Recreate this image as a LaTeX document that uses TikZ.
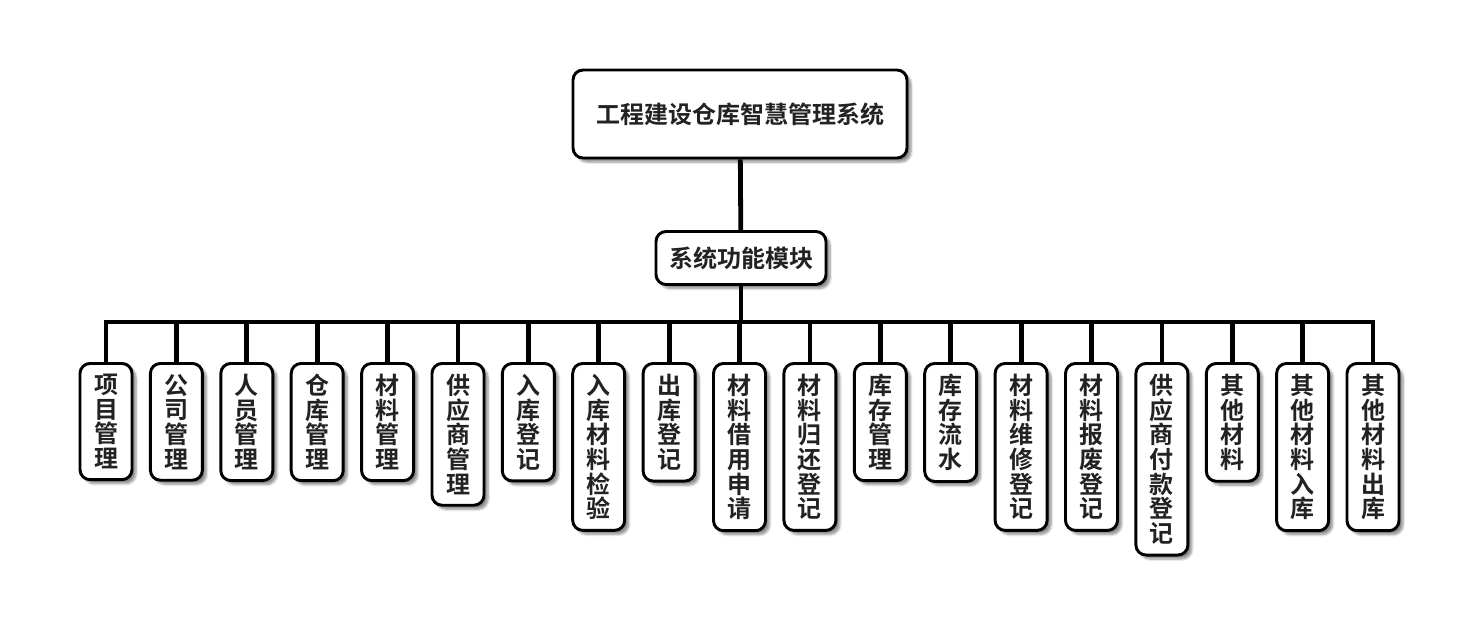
\documentclass[tikz,border=0pt]{standalone}
\usepackage{fontspec}
\newfontfamily\cjk{Noto Sans CJK SC}[BoldFont={Noto Sans CJK SC Bold}]
\usetikzlibrary{shadows.blur}
\definecolor{ink}{HTML}{222222}

\begin{document}
\begin{tikzpicture}[
  x=0.75pt,y=-0.75pt,
  box/.style={draw=black, line width=2.2pt, rounded corners=7.5pt, fill=white, align=center,
    font=\cjk\bfseries\fontsize{18}{18.5}\selectfont, text=ink,
    blur shadow={shadow xshift=3pt, shadow yshift=-3pt, shadow blur steps=6, shadow opacity=45}},
  leaf/.style={box, anchor=north, minimum width=39pt, inner xsep=2pt, inner ysep=8pt},
  link/.style={line width=3.6pt}
]
\useasboundingbox (0,0) rectangle (1480,632);

\node[box, minimum width=250.5pt, minimum height=66pt] (root) at (740,114) {工程建设仓库智慧管理系统};
\node[box, minimum width=127.5pt, minimum height=39.75pt] (mod) at (741,258) {系统功能模块};
\coordinate (bus) at (741,322);

% leaves
\node[leaf] (l1)  at (106.0,362)  {项\\目\\管\\理};
\node[leaf] (l2)  at (176.4,362)  {公\\司\\管\\理};
\node[leaf] (l3)  at (246.8,362)  {人\\员\\管\\理};
\node[leaf] (l4)  at (317.2,362)  {仓\\库\\管\\理};
\node[leaf] (l5)  at (387.6,362)  {材\\料\\管\\理};
\node[leaf] (l6)  at (458.0,362)  {供\\应\\商\\管\\理};
\node[leaf] (l7)  at (528.3,362)  {入\\库\\登\\记};
\node[leaf] (l8)  at (598.7,362)  {入\\库\\材\\料\\检\\验};
\node[leaf] (l9)  at (669.1,362)  {出\\库\\登\\记};
\node[leaf] (l10) at (739.5,362)  {材\\料\\借\\用\\申\\请};
\node[leaf] (l11) at (809.9,362)  {材\\料\\归\\还\\登\\记};
\node[leaf] (l12) at (880.3,362)  {库\\存\\管\\理};
\node[leaf] (l13) at (950.7,362)  {库\\存\\流\\水};
\node[leaf] (l14) at (1021.1,362) {材\\料\\维\\修\\登\\记};
\node[leaf] (l15) at (1091.5,362) {材\\料\\报\\废\\登\\记};
\node[leaf] (l16) at (1161.9,362) {供\\应\\商\\付\\款\\登\\记};
\node[leaf] (l17) at (1232.3,362) {其\\他\\材\\料};
\node[leaf] (l18) at (1302.6,362) {其\\他\\材\\料\\入\\库};
\node[leaf] (l19) at (1373.0,362) {其\\他\\材\\料\\出\\库};

% connectors
\draw[link] (root) -- (mod);
\draw[link] (mod) -- (bus);
\draw[link] (l1.north) |- (bus) -| (l19.north);
\foreach \k in {2,...,18}
  \draw[link] (l\k.north) -- (l\k.north |- bus);
\end{tikzpicture}
\end{document}
